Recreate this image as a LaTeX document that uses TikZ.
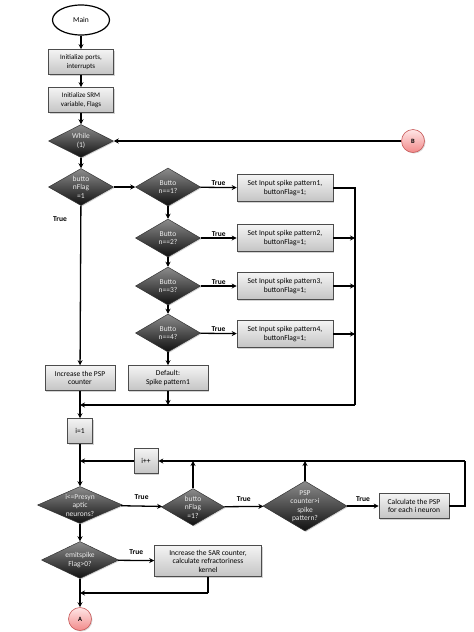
\documentclass[tikz,border=0pt]{standalone}
\usepackage{fontspec}
\setmainfont{Carlito}
\usetikzlibrary{shapes.geometric,arrows.meta,shadows}
\definecolor{boxtop}{HTML}{F4F4F4}
\definecolor{boxbot}{HTML}{C4C4C4}
\definecolor{dtop}{HTML}{8C8C8C}
\definecolor{dbot}{HTML}{101010}
\definecolor{ctop}{HTML}{FFE6E6}
\definecolor{cbot}{HTML}{F28A8A}
\definecolor{cbord}{HTML}{C85A5A}
\tikzset{
  every node/.style={font=\fontsize{7.5}{8.5}\selectfont},
  pbox/.style={rectangle, draw=black!70, line width=0.6pt, top color=boxtop, bottom color=boxbot, align=center, inner sep=1pt, drop shadow={opacity=0.35,shadow xshift=1pt,shadow yshift=-1pt}},
  dec/.style={diamond, draw=black!80, line width=0.5pt, top color=dtop, bottom color=dbot, text=white!92!black, align=center, inner sep=-12pt, drop shadow={opacity=0.35,shadow xshift=1pt,shadow yshift=-1pt}},
  conn/.style={circle, draw=cbord, line width=0.6pt, top color=ctop, bottom color=cbot, font=\fontsize{6.5}{7}\selectfont\bfseries, minimum size=23pt, inner sep=0pt, drop shadow={opacity=0.3,shadow xshift=1pt,shadow yshift=-1pt}},
  flow/.style={line width=1.3pt, -{Stealth[length=5pt,width=5pt]}},
  line/.style={line width=1.3pt},
  tlab/.style={font=\fontsize{7.5}{8}\selectfont\bfseries, inner sep=1pt},
}
\begin{document}
\begin{tikzpicture}[x=1pt,y=-1pt]
\useasboundingbox (0,0) rectangle (474,632);
% nodes
\node[ellipse, draw, line width=1.2pt, fill=white, minimum width=57pt, minimum height=30pt, inner sep=0pt] (main) at (81,20) {Main};
\node[pbox, minimum width=65pt, minimum height=25pt, font=\fontsize{7}{8.5}\selectfont] (init1) at (81,62) {Initialize ports,\\interrupts};
\node[pbox, minimum width=65pt, minimum height=25pt, font=\fontsize{7}{8.5}\selectfont] (init2) at (81,100) {Initialize SRM\\variable, Flags};
\node[dec, minimum width=65pt, minimum height=33pt] (while) at (81,141) {While\\(1)};
\node[conn] (B) at (413,141) {B};
\node[dec, minimum width=65pt, minimum height=37pt] (bf) at (81,187) {butto\\nFlag\\=1};
\node[dec, minimum width=65pt, minimum height=38pt] (b1) at (168,187) {Butto\\n==1?};
\node[dec, minimum width=65pt, minimum height=38pt] (b2) at (168,238) {Butto\\n==2?};
\node[dec, minimum width=65pt, minimum height=38pt] (b3) at (168,286) {Butto\\n==3?};
\node[dec, minimum width=65pt, minimum height=38pt] (b4) at (168,333) {Butto\\n==4?};
\node[pbox, minimum width=96pt, minimum height=27pt] (s1) at (285,188) {Set Input spike pattern1,\\buttonFlag=1;};
\node[pbox, minimum width=96pt, minimum height=27pt] (s2) at (285,238) {Set Input spike pattern2,\\buttonFlag=1;};
\node[pbox, minimum width=96pt, minimum height=27pt] (s3) at (285,286) {Set Input spike pattern3,\\buttonFlag=1;};
\node[pbox, minimum width=96pt, minimum height=27pt] (s4) at (285,334) {Set Input spike pattern4,\\buttonFlag=1;};
\node[pbox, minimum width=80pt, minimum height=25pt] (def) at (168,378) {Default:\\Spike pattern1};
\node[pbox, minimum width=70pt, minimum height=25pt] (psp) at (80,378) {Increase the PSP\\counter};
\node[pbox, minimum width=25pt, minimum height=25pt] (i1) at (80,431) {i=1};
\node[pbox, minimum width=24pt, minimum height=25pt] (ipp) at (146,461) {i++};
\node[dec, minimum width=85pt, minimum height=37pt] (pre) at (80,505) {i<=Presyn\\aptic\\neurons?};
\node[dec, minimum width=63pt, minimum height=37pt] (bf2) at (193,507) {butto\\nFlag\\=1?};
\node[dec, minimum width=84pt, minimum height=50pt] (pspc) at (305,506) {PSP\\counter>i\\spike\\pattern?};
\node[pbox, minimum width=70pt, minimum height=25pt] (calc) at (414,506) {Calculate the PSP\\for each i neuron};
\node[dec, minimum width=77pt, minimum height=37pt] (emit) at (80,560) {emitspike\\Flag>0?};
\node[pbox, minimum width=107pt, minimum height=31pt] (sar) at (208,561) {Increase the SAR counter,\\calculate refractoriness\\kernel};
\node[conn] (A) at (80,619) {A};
% junction coordinates
\coordinate (r1) at (355,188);
\coordinate (r2) at (355,238);
\coordinate (r3) at (355,286);
\coordinate (r4) at (355,334);
\coordinate (rb) at (355,405);
\coordinate (ml) at (80,405);
\coordinate (md) at (168,405);
\coordinate (lr) at (465,506);
\coordinate (lt) at (465,461);
\coordinate (ll) at (80,461);
\coordinate (lp) at (305,461);
\coordinate (lb) at (193,461);
\coordinate (sd) at (208,593);
\coordinate (sl) at (80,593);
% connectors
\draw[flow] (main) -- (init1);
\draw[flow] (init1) -- (init2);
\draw[flow] (init2) -- (while);
\draw[flow] (while) -- (bf);
\draw[flow] (B) -- (while);
\draw[flow] (bf) -- (b1);
\draw[flow] (b1) -- node[tlab, above] {True} (s1);
\draw[flow] (b2) -- node[tlab, above] {True} (s2);
\draw[flow] (b3) -- node[tlab, above] {True} (s3);
\draw[flow] (b4) -- node[tlab, above] {True} (s4);
\draw[flow] (b1) -- (b2);
\draw[flow] (b2) -- (b3);
\draw[flow] (b3) -- (b4);
\draw[flow] (b4) -- (def);
\draw[flow] (s2) -- (r2);
\draw[flow] (s3) -- (r3);
\draw[flow] (s4) -- (r4);
\draw[line] (s1) -- (r1) -- (rb);
\draw[flow] (rb) -- (ml);
\draw[flow] (def) -- (md);
\draw[flow] (bf) -- (psp);
\node[tlab] (tbf) at (60,219) {True};
\draw[flow] (psp) -- (i1);
\draw[flow] (i1) -- (pre);
\draw[flow] (pre) -- node[tlab, above, yshift=5pt] {True} (bf2);
\draw[flow] (bf2) -- node[tlab, above, yshift=3pt] {True} (pspc);
\draw[flow] (pspc) -- node[tlab, above, yshift=3pt] {True} (calc);
\draw[line] (calc) -- (lr) -- (lt);
\draw[flow] (lt) -- (ipp);
\draw[flow] (ipp) -- (ll);
\draw[flow] (pspc) -- (lp);
\draw[flow] (bf2) -- (lb);
\draw[flow] (pre) -- (emit);
\draw[flow] (emit) -- node[tlab, above, yshift=4pt] {True} (sar);
\draw[line] (sar) -- (sd);
\draw[flow] (sd) -- (sl);
\draw[flow] (emit) -- (A);
\end{tikzpicture}
\end{document}
